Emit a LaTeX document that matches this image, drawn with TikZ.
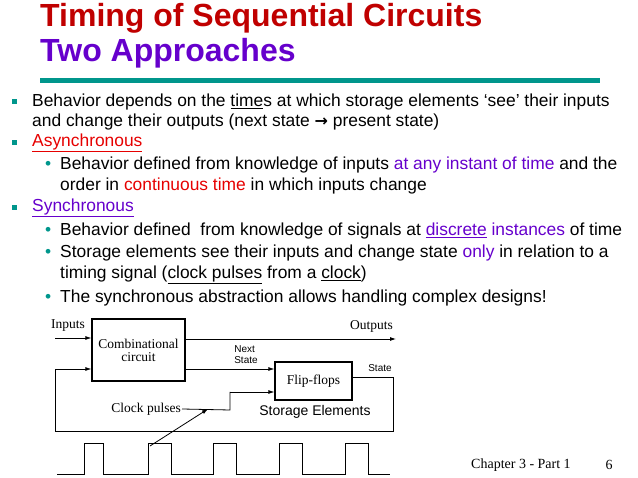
\documentclass[tikz,border=0pt]{standalone}
\usepackage{fontspec}
\setmainfont{Liberation Sans}
\newfontfamily\serifx{Liberation Serif}
\newfontfamily\dejav{DejaVu Sans}
\usetikzlibrary{arrows.meta}
\definecolor{tred}{RGB}{192,0,0}
\definecolor{tpur}{RGB}{102,0,204}
\definecolor{teal2}{RGB}{0,150,140}
\definecolor{ared}{RGB}{230,0,0}
\begin{document}
\begin{tikzpicture}[x=1pt,y=-1pt,
  txt/.style={anchor=west,inner sep=0pt,font=\fontsize{17.4}{19}\selectfont},
  bul/.style={fill=teal2,minimum size=5pt,inner sep=0pt},
  box/.style={draw,line width=1.2pt,inner sep=0pt},
  wire/.style={line width=0.8pt},
  arr/.style={wire,-{Latex[length=6pt,width=4pt]}},
  lab/.style={font=\serifx\fontsize{13.5}{15}\selectfont,inner sep=1pt},
  slab/.style={font=\fontsize{10}{11}\selectfont,inner sep=1pt,align=left}]
\useasboundingbox (0,0) rectangle (638,478);
\node[anchor=west,inner sep=0pt,font=\bfseries\fontsize{32}{34}\selectfont,text=tred] (t1) at (40,18) {Timing of Sequential Circuits};
\node[anchor=west,inner sep=0pt,font=\bfseries\fontsize{32}{34}\selectfont,text=tpur] (t2) at (40,53) {Two Approaches};
\fill[teal2] (40,78) rectangle (600,83);
\node[bul] (b1) at (14,102) {};
\node[txt] (l1) at (32,102) {Behavior depends on the \underline{time}s at which storage elements ‘see’ their inputs};
\node[txt] (l2) at (32,122) {and change their outputs (next state {\dejav\bfseries\fontsize{16}{16}\selectfont →} present state)};
\node[bul] (b2) at (14,143) {};
\node[txt,text=ared] (l3) at (32,143) {\underline{Asynchronous}};
\node[txt,text=teal2] (d4) at (45,165) {•};
\node[txt] (l4) at (60,165) {Behavior defined from knowledge of inputs \textcolor{tpur}{at any instant of time} and the};
\node[txt] (l5) at (60,186) {order in \textcolor{ared}{continuous time} in which inputs change};
\node[bul] (b3) at (14,208) {};
\node[txt,text=tpur] (l6) at (32,208) {\underline{Synchronous}};
\node[txt,text=teal2] (d7) at (45,231) {•};
\node[txt] (l7) at (60,231) {Behavior defined\ \ from knowledge of signals at \textcolor{tpur}{\underline{discrete} instances} of time};
\node[txt,text=teal2] (d8) at (45,253) {•};
\node[txt] (l8) at (60,253) {Storage elements see their inputs and change state \textcolor{tpur}{only} in relation to a};
\node[txt] (l9) at (60,275) {timing signal (\underline{clock pulses} from a \underline{clock})};
\node[txt,text=teal2] (d10) at (45,298) {•};
\node[txt] (l10) at (60,298) {The synchronous abstraction allows handling complex designs!};
% diagram
\node[box,minimum width=93pt,minimum height=62pt] (cc) at (138.5,350) {};
\node[lab,align=center] (cct) at (138.5,350) {Combinational\\[-2pt]circuit};
\node[box,minimum width=77pt,minimum height=38pt] (ff) at (313.5,381) {};
\node[lab] (fft) at (313.5,381) {Flip-flops};
\coordinate (inL) at (55,338);
\coordinate (fbL) at (55,369);
\node[lab,anchor=west] (inp) at (50,326) {Inputs};
\node[lab,anchor=east] (outp) at (394,326) {Outputs};
\coordinate (outR) at (396,339);
\draw[arr] (inL) -- (inL -| cc.west);
\draw[arr] (cc.east |- outR) -- (outR);
\draw[arr] (cc.east |- fbL) -- (ff.west |- fbL);
\node[slab] (ns) at (246,355) {Next\\State};
\node[slab] (st) at (380,368) {State};
\coordinate (sR) at (393,377);
\coordinate (sB) at (393,431);
\coordinate (sL) at (55,431);
\draw[wire] (ff.east |- sR) -- (sR) -- (sB) -- (sL) -- (fbL);
\draw[arr] (fbL) -- (fbL -| cc.west);
\node[lab,anchor=east] (cp) at (182,409) {Clock pulses};
\coordinate (c1) at (230,410);
\coordinate (c2) at (230,392);
\draw[wire] (cp.east) -- (c1) -- (c2);
\draw[arr] (c2) -- (c2 -| ff.west);
\node[inner sep=0pt,font=\fontsize{14}{16}\selectfont] (se) at (315,412) {Storage Elements};
\coordinate (pk) at (150,446);
\coordinate (pt) at (208,409);
\draw[arr] (pk) -- (pt);
\draw[wire] (57,474) -- (84,474) -- (84,443) -- (103,443) -- (103,474)
  -- (148,474) -- (148,443) -- (171,443) -- (171,474)
  -- (213,474) -- (213,443) -- (236,443) -- (236,474)
  -- (279,474) -- (279,443) -- (302,443) -- (302,474)
  -- (345,474) -- (345,443) -- (368,443) -- (368,474) -- (390,474);
\node[lab,anchor=west,font=\serifx\fontsize{14}{16}\selectfont] (ch) at (470,465) {Chapter 3 - Part 1};
\node[lab,font=\serifx\fontsize{14}{16}\selectfont] (pg) at (609,465) {6};
\end{tikzpicture}
\end{document}
